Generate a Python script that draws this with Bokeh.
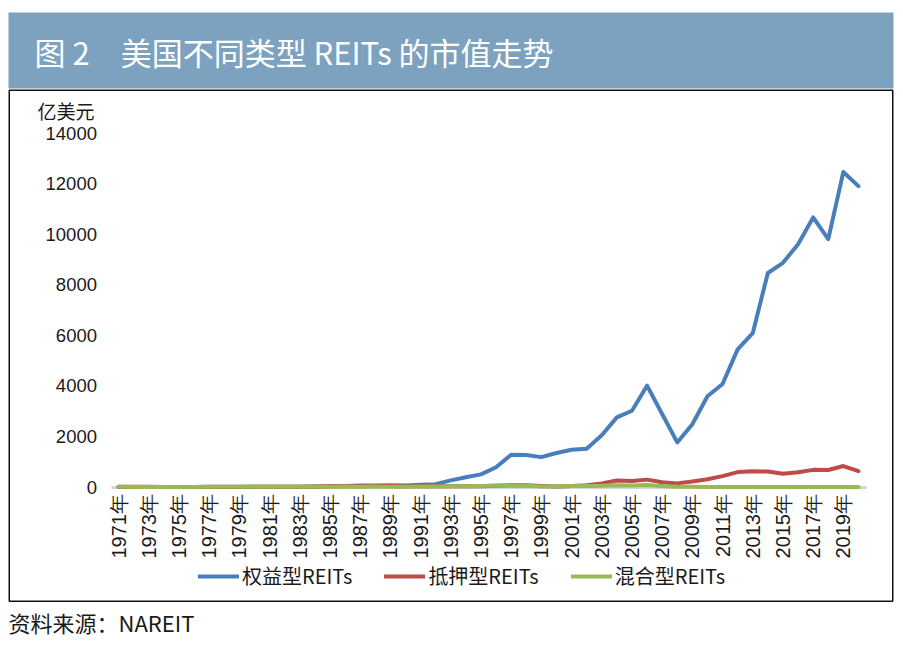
from bokeh.plotting import figure
from bokeh.embed import file_html
from bokeh.resources import INLINE
from bokeh.models import (Legend, LegendItem, FixedTicker, Range1d, LinearAxis)
from bokeh.core.properties import value

years = list(range(1971, 2021))
equity = [3.3, 3.8, 3.4, 2.4, 2.8, 4.1, 5.4, 5.8, 7.4, 9.4,
          9.8, 10.7, 14.7, 18.0, 32.7, 43.4, 55.7, 61.4, 67.7, 55.5,
          87.9, 111.7, 260.8, 388.1, 499.1, 783.0, 1278.3, 1269.1, 1182.3, 1344.3,
          1470.9, 1512.7, 2048.0, 2752.9, 3014.9, 4007.4, 2886.9, 1762.4, 2483.6, 3589.1,
          4075.3, 5444.2, 6082.8, 8464.1, 8864.9, 9601.9, 10659.5, 9803.2, 12458.8, 11900.0]
mortgage = [5.7, 11.6, 7.1, 3.1, 3.1, 4.8, 4.1, 3.4, 3.8, 5.1,
            5.4, 11.3, 14.6, 18.0, 31.6, 36.3, 31.6, 36.2, 35.4, 25.5,
            25.9, 27.7, 34.0, 25.0, 34.0, 47.8, 73.7, 64.8, 44.4, 16.3,
            39.9, 71.5, 141.9, 259.6, 233.9, 292.0, 190.5, 142.8, 221.0, 303.9,
            429.7, 590.0, 620.6, 610.2, 523.6, 585.4, 677.5, 673.3, 829.3, 627.8]
hybrid = [5.9, 3.4, 3.4, 1.6, 3.1, 4.2, 5.8, 5.0, 6.3, 8.5,
          9.2, 10.9, 13.3, 14.9, 12.4, 19.6, 9.7, 16.7, 13.6, 6.4,
          16.0, 19.7, 26.8, 29.9, 42.3, 57.0, 53.4, 49.2, 15.9, 26.5,
          38.2, 35.2, 52.3, 66.4, 58.1, 81.3, 42.6, 11.3, 7.4, 0.0,
          0.0, 0.0, 0.0, 0.0, 0.0, 0.0, 0.0, 0.0, 0.0, 0.0]
series_names = ["权益型REITs", "抵押型REITs", "混合型REITs"]
series_colors = ["#4A7EBB", "#BE4B48", "#98B954"]
y_ticks = [0, 2000, 4000, 6000, 8000, 10000, 12000, 14000]
x_tick_years = list(range(1971, 2021, 2))
title_text = "图 2\u3000美国不同类型 REITs 的市值走势"
unit_text = "亿美元"
source_text = "资料来源：NAREIT"

CJK = "Noto Sans CJK SC"
LAT = "Liberation Sans"
TXT = "#1a1a1a"

# ---- page geometry (pixels) ----
W, H = 900, 644
cat_first, cat_last = years[0] - 0.5, years[-1] + 0.5
plot_left_px, plot_right_px = 110.5, 865.5
y_top_val = y_ticks[-1]
y_top_px, y_zero_px = 132.5, 486.5

px_per_year = (plot_right_px - plot_left_px) / (cat_last - cat_first)
x_start = cat_first - plot_left_px / px_per_year
x_end = x_start + W / px_per_year
units_per_px = y_top_val / (y_zero_px - y_top_px)
y_end = y_top_val + y_top_px * units_per_px
y_start = y_end - H * units_per_px

p = figure(width=W, height=H, output_backend="svg", toolbar_location=None,
           x_range=Range1d(x_start, x_end), y_range=Range1d(y_start, y_end),
           x_axis_type=None, y_axis_type=None, min_border=0)
p.outline_line_color = None
p.background_fill_color = "white"
p.border_fill_color = "white"

# pixel-space range for the page decorations
p.extra_x_ranges = {"px": Range1d(0, W)}
p.extra_y_ranges = {"px": Range1d(H, 0)}

# title band and frame box
p.quad(left=[8], right=[893], top=[12], bottom=[88], fill_color="#7DA2BF",
       line_color=None, x_range_name="px", y_range_name="px")
p.quad(left=[8.75], right=[892.25], top=[89.75], bottom=[600.75],
       fill_alpha=0, line_color="#111111", line_width=1.5,
       x_range_name="px", y_range_name="px")
p.text(x=[34], y=[51], text=[title_text], text_font=value(CJK),
       text_font_size="31px", text_color="white", text_baseline="middle",
       x_range_name="px", y_range_name="px")
p.text(x=[37], y=[110], text=[unit_text], text_font=value(CJK),
       text_font_size="19px", text_color=TXT, text_baseline="middle",
       x_range_name="px", y_range_name="px")
p.text(x=[8], y=[621], text=[source_text], text_font=value(CJK),
       text_font_size="22px", text_color=TXT, text_baseline="middle",
       x_range_name="px", y_range_name="px")

# axes placed inside the frame
xaxis = LinearAxis(fixed_location=0, bounds=(cat_first, cat_last),
                   ticker=FixedTicker(ticks=x_tick_years),
                   major_label_overrides={y: f"{y}年" for y in x_tick_years},
                   axis_line_color="#D4D4D4", axis_line_width=3,
                   major_tick_line_color=None, minor_tick_line_color=None,
                   major_tick_out=0, major_tick_in=0,
                   major_label_standoff=7,
                   major_label_orientation=3.14159265 / 2,
                   major_label_text_font=LAT,
                   major_label_text_font_size="20px",
                   major_label_text_color=TXT, level="underlay")
p.add_layout(xaxis, "below")
yaxis = LinearAxis(fixed_location=cat_first,
                   ticker=FixedTicker(ticks=y_ticks),
                   axis_line_color=None,
                   major_tick_line_color=None, minor_tick_line_color=None,
                   major_tick_out=0, major_tick_in=0,
                   major_label_standoff=14,
                   major_label_text_font=LAT,
                   major_label_text_font_size="18.5px",
                   major_label_text_color=TXT)
p.add_layout(yaxis, "left")

renderers = []
for vals, c in zip([equity, mortgage, hybrid], series_colors):
    r = p.line(years, vals, line_color=c, line_width=4, line_join="round",
               line_cap="round")
    renderers.append(r)

legend = Legend(items=[LegendItem(label=n, renderers=[r])
                       for n, r in zip(series_names, renderers)],
                orientation="horizontal", location=(198, 54),
                glyph_width=41, glyph_height=20, label_height=20,
                label_standoff=3, spacing=32, padding=0, margin=0,
                border_line_color=None, background_fill_alpha=0,
                label_text_font=CJK, label_text_font_size="20px",
                label_text_color=TXT)
p.add_layout(legend)

open("out.html", "w").write(file_html(p, INLINE))
